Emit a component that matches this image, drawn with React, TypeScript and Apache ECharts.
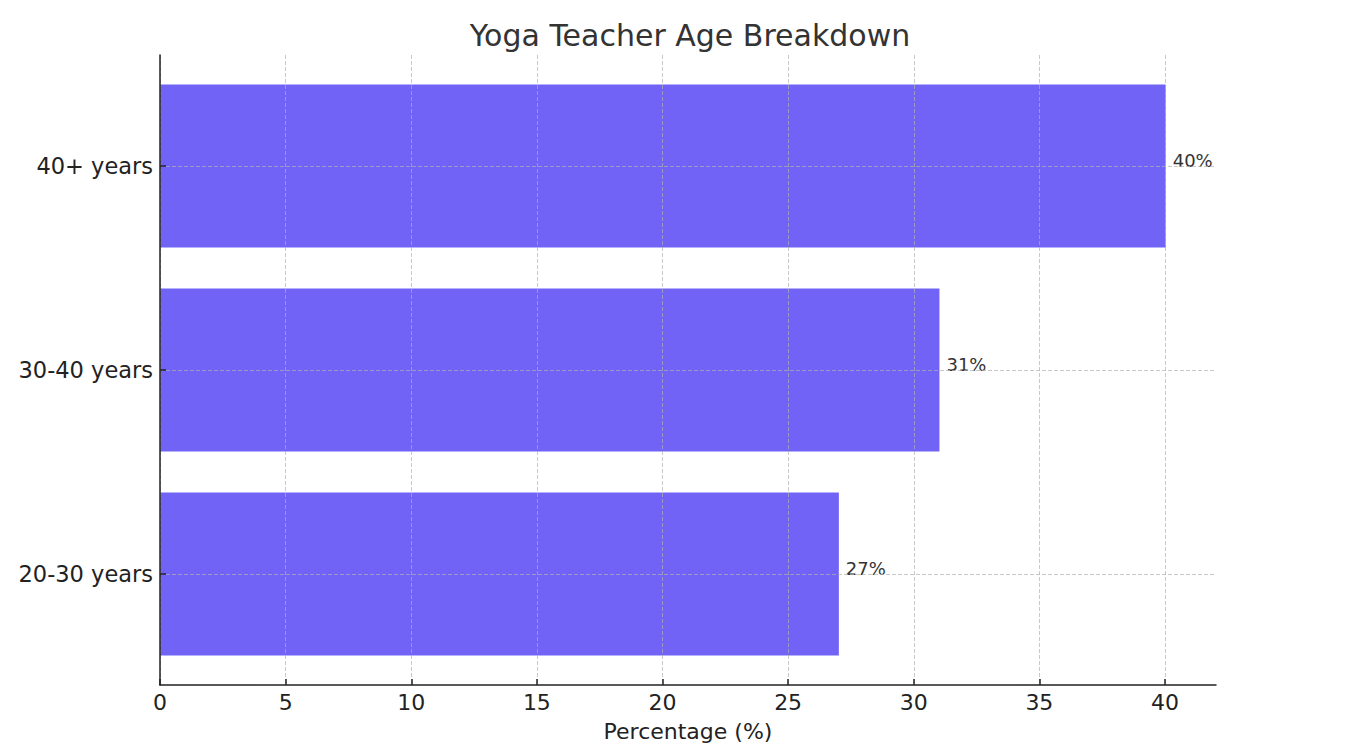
import React, { useEffect, useRef } from "react";
import * as echarts from "echarts";

const categories: string[] = ["20-30 years", "30-40 years", "40+ years"];
const values: number[] = [27, 31, 40];
const xTickMax = 40;
const xAxisMax = 42;
const xTickStep = 5;
const chartTitle = "Yoga Teacher Age Breakdown";
const xAxisTitle = "Percentage (%)";

const FONT = "'DejaVu Sans', sans-serif";
const GRID_LINE = { color: "rgba(176,176,176,0.7)", width: 1, type: [4, 2] as any };

export default function App() {
  const ref = useRef<HTMLDivElement>(null);
  useEffect(() => {
    document.body.style.margin = "0";
    if (!ref.current) return;
    const chart = echarts.init(ref.current, null, { renderer: "svg" });
    chart.setOption({
      animation: false,
      backgroundColor: "#ffffff",
      textStyle: { fontFamily: FONT },
      title: {
        text: chartTitle,
        left: 685,
        top: 15,
        textAlign: "center",
        textStyle: { fontFamily: FONT, fontSize: 30, fontWeight: "normal", color: "#333333" },
      },
      grid: [
        { left: 160, right: 191, top: 55, bottom: 71 },
        { left: 160, right: 140, top: 55, bottom: 71 },
        { left: 160, right: 140, top: 64, bottom: 80 },
      ],
      xAxis: [
        {
          gridIndex: 0,
          type: "value",
          min: 0,
          max: xTickMax,
          interval: xTickStep,
          z: 5,
          axisLine: { show: false },
          axisTick: { show: true, inside: true, length: 6, lineStyle: { color: "#222222", width: 1.5 } },
          axisLabel: { fontFamily: FONT, fontSize: 22, color: "#222222", margin: 6 },
          splitLine: { show: true, lineStyle: GRID_LINE },
        },
        {
          gridIndex: 1,
          type: "value",
          min: 0,
          max: xAxisMax,
          z: 6,
          axisLine: { show: true, lineStyle: { color: "#222222", width: 1.5 } },
          axisTick: { show: false },
          axisLabel: { show: false },
          splitLine: { show: false },
          name: xAxisTitle,
          nameLocation: "middle",
          nameGap: 35,
          nameTextStyle: { fontFamily: FONT, fontSize: 22, color: "#222222" },
        },
        {
          gridIndex: 2,
          type: "value",
          min: 0,
          max: xAxisMax,
          show: false,
        },
      ],
      yAxis: [
        { gridIndex: 0, type: "value", show: false },
        {
          gridIndex: 1,
          type: "value",
          z: 6,
          axisLine: { show: true, lineStyle: { color: "#222222", width: 1.5 } },
          axisTick: { show: false },
          axisLabel: { show: false },
          splitLine: { show: false },
        },
        {
          gridIndex: 2,
          type: "category",
          data: categories,
          z: 6,
          axisLine: { show: false },
          axisTick: { show: true, inside: true, alignWithLabel: true, length: 6, lineStyle: { color: "#222222", width: 1.5 } },
          axisLabel: { fontFamily: FONT, fontSize: 22.5, color: "#222222", margin: 7, padding: [4, 0, 0, 0] },
          splitLine: { show: false },
        },
      ],
      series: [
        {
          type: "bar",
          xAxisIndex: 2,
          yAxisIndex: 2,
          data: values,
          barCategoryGap: "20%",
          itemStyle: { color: "#7163F6" },
          label: {
            show: true,
            position: "right",
            distance: 7,
            offset: [0, -6],
            formatter: "{c}%",
            fontFamily: FONT,
            fontSize: 18,
            color: "#333333",
          },
          markLine: {
            silent: true,
            symbol: "none",
            label: { show: false },
            lineStyle: GRID_LINE,
            data: categories.map((c) => ({ yAxis: c })),
          },
        },
      ],
    });
    return () => chart.dispose();
  }, []);
  return <div ref={ref} style={{ width: 1356, height: 756 }} />;
}
